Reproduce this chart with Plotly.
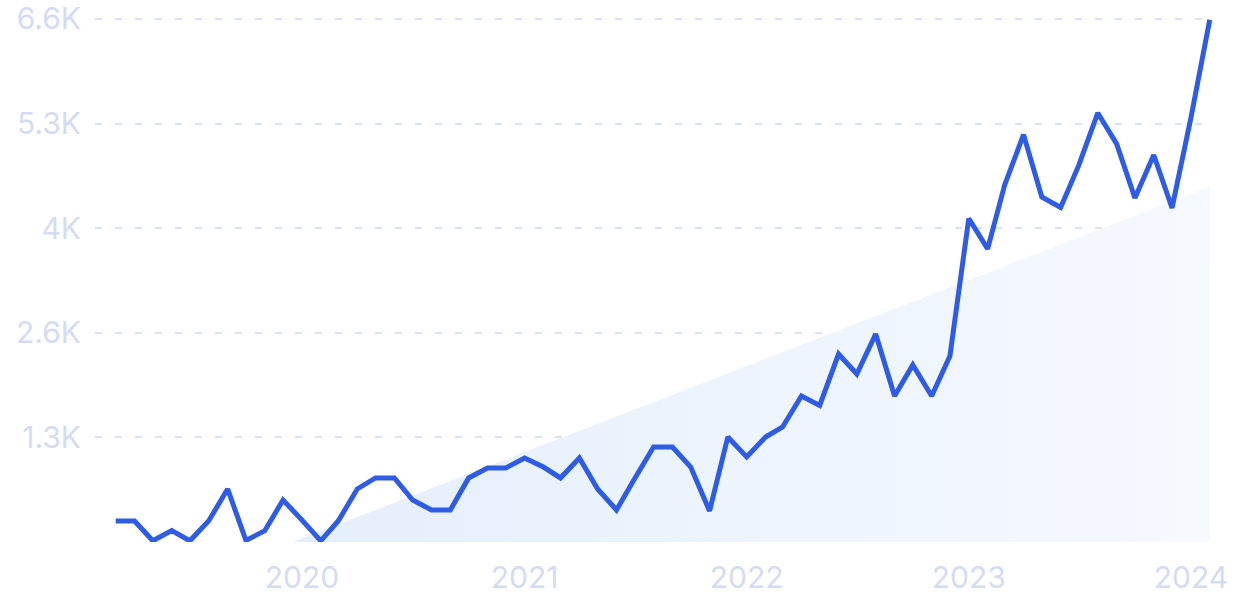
import plotly.graph_objects as go
import pandas as pd

# monthly values, Mar 2019 .. Feb 2024
months = pd.date_range("2019-03-01", "2024-02-01", freq="MS")
values = [
    265, 265, 15, 143, 15, 269, 669, 20, 143, 530, 278, 15,
    269, 669, 808, 808, 530, 404, 404, 808, 934, 934, 1060, 946,
    808, 1060, 669, 404, 800, 1199, 1199, 946, 391, 1325, 1073, 1325,
    1451, 1843, 1723, 2372, 2120, 2625, 1843, 2234, 1843, 2347, 4082, 3698,
    4505, 5141, 4354, 4221, 4758, 5414, 5023, 4341, 4884, 4215, 5351, 6591,
]

# trend area (start / end)
trend_dates = ["2019-12-17", "2024-02-01"]
trend_values = [0, 4485]

y_tickvals = [1320, 2640, 3960, 5280, 6600]
y_ticktext = ["1.3K", "2.6K", "4K", "5.3K", "6.6K"]
x_tickvals = ["2020-01-01", "2021-01-01", "2022-01-01", "2023-01-01", "2024-01-01"]
x_ticktext = ["2020", "2021", "2022", "2023", "2024"]

label_color = "#D3DCF5"
grid_color = "#D8E3FA"
line_color = "#2E5CE6"

fig = go.Figure()

fig.add_trace(go.Scatter(
    x=trend_dates,
    y=trend_values,
    mode="lines",
    line=dict(width=0),
    fill="tozeroy",
    fillgradient=dict(
        type="horizontal",
        colorscale=[[0, "#E4EFFC"], [1, "#F6F9FE"]],
    ),
    hoverinfo="skip",
))

fig.add_trace(go.Scatter(
    x=months,
    y=values,
    mode="lines",
    line=dict(color=line_color, width=5),
    hovertemplate="%{x|%b %Y}: %{y}<extra></extra>",
))

fig.update_layout(
    width=1234,
    height=616,
    margin=dict(l=95, r=20, t=10, b=74),
    paper_bgcolor="white",
    plot_bgcolor="white",
    showlegend=False,
    font=dict(family="Inter, sans-serif", size=30, color=label_color),
)

fig.update_xaxes(
    range=["2019-01-26", "2024-02-08"],
    tickvals=x_tickvals,
    ticktext=x_ticktext,
    showgrid=False,
    zeroline=False,
    showline=False,
    ticks="",
    automargin=False,
    ticklabeloverflow="allow",
    ticklabelstandoff=15,
    tickfont=dict(size=30, color=label_color),
)

fig.update_yaxes(
    range=[0, 6713],
    tickvals=y_tickvals,
    ticktext=y_ticktext,
    showgrid=True,
    gridcolor=grid_color,
    griddash="7px,13px",
    gridwidth=1.5,
    zeroline=False,
    showline=False,
    ticks="",
    automargin=False,
    ticklabeloverflow="allow",
    ticklabelstandoff=13,
    tickfont=dict(size=30, color=label_color),
)

# drop the default body margin so the figure sits at the page corner
fig.write_html(
    "out.html",
    config={"displayModeBar": False},
    post_script="document.body.style.margin='0';",
)
